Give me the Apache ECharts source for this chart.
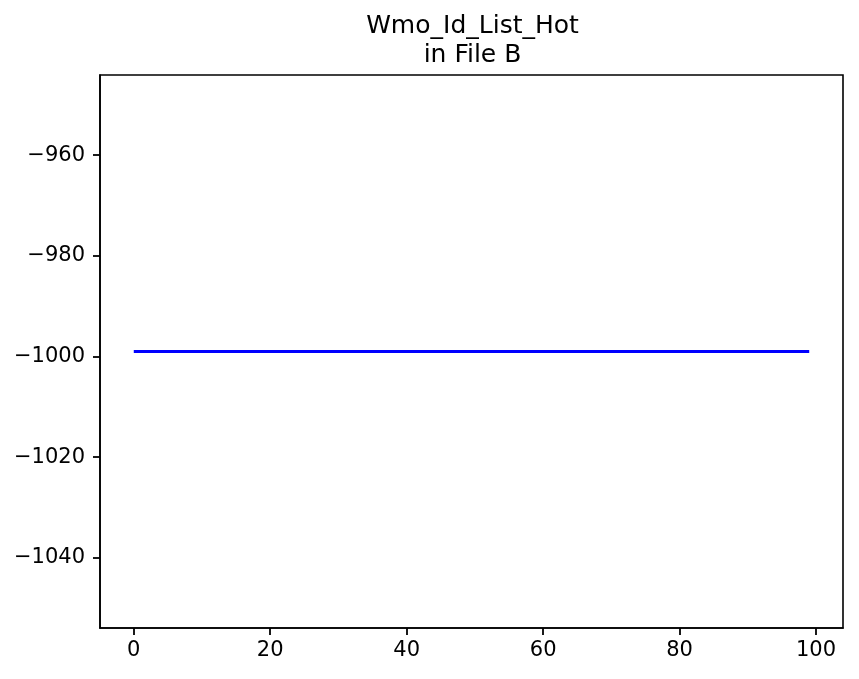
<!DOCTYPE html>
<html>
<head>
<meta charset="utf-8">
<script src="https://cdn.jsdelivr.net/npm/echarts@6/dist/echarts.min.js"></script>
<style>
html,body{margin:0;padding:0;background:#fff;}
#c{width:859px;height:679px;}
</style>
</head>
<body>
<div id="c"></div>
<script>
var titleText = "Wmo_Id_List_Hot\nin File B";
var xValues = [0,1,2,3,4,5,6,7,8,9,10,11,12,13,14,15,16,17,18,19,20,21,22,23,24,25,26,27,28,29,30,31,32,33,34,35,36,37,38,39,40,41,42,43,44,45,46,47,48,49,50,51,52,53,54,55,56,57,58,59,60,61,62,63,64,65,66,67,68,69,70,71,72,73,74,75,76,77,78,79,80,81,82,83,84,85,86,87,88,89,90,91,92,93,94,95,96,97,98,99];
var yValues = [-999,-999,-999,-999,-999,-999,-999,-999,-999,-999,-999,-999,-999,-999,-999,-999,-999,-999,-999,-999,-999,-999,-999,-999,-999,-999,-999,-999,-999,-999,-999,-999,-999,-999,-999,-999,-999,-999,-999,-999,-999,-999,-999,-999,-999,-999,-999,-999,-999,-999,-999,-999,-999,-999,-999,-999,-999,-999,-999,-999,-999,-999,-999,-999,-999,-999,-999,-999,-999,-999,-999,-999,-999,-999,-999,-999,-999,-999,-999,-999,-999,-999,-999,-999,-999,-999,-999,-999,-999,-999,-999,-999,-999,-999,-999,-999,-999,-999,-999,-999];
var xTicks = [0,20,40,60,80,100];
var yTicks = [-1040,-1020,-1000,-980,-960];

var pts = xValues.map(function(x,i){return [x, yValues[i]];});
var chart = echarts.init(document.getElementById('c'), null, {renderer:'canvas'});
var font = 'DejaVu Sans';
chart.setOption({
  animation:false,
  backgroundColor:'#fff',
  title:{
    text:titleText, left:467.5, textAlign:'center', top:7,
    textStyle:{fontFamily:font, fontSize:25, fontWeight:'normal', color:'#000', lineHeight:29}
  },
  grid:{left:100, right:16, top:75, bottom:51, show:true, borderColor:'#000', borderWidth:1.6, backgroundColor:'transparent'},
  xAxis:{
    type:'value', min:-4.95, max:103.95,
    splitLine:{show:false},
    axisLine:{show:true, onZero:false, lineStyle:{color:'#000', width:1.6}},
    axisTick:{show:true, customValues:xTicks, length:7, lineStyle:{color:'#000', width:1.8}},
    axisLabel:{customValues:xTicks, margin:12, fontFamily:font, fontSize:21, color:'#000'}
  },
  yAxis:{
    type:'value', min:-1053.945, max:-944.055,
    splitLine:{show:false},
    axisLine:{show:true, onZero:false, lineStyle:{color:'#000', width:1.6}},
    axisTick:{show:true, customValues:yTicks, length:7, lineStyle:{color:'#000', width:1.8}},
    axisLabel:{customValues:yTicks, margin:15, fontFamily:font, fontSize:21, color:'#000',
      formatter:function(v){return String(v).replace('-', '\u2212');}}
  },
  series:[{
    type:'line', data:pts, showSymbol:false, symbol:'none',
    lineStyle:{color:'#0000ff', width:3}
  }]
});
</script>
</body>
</html>
